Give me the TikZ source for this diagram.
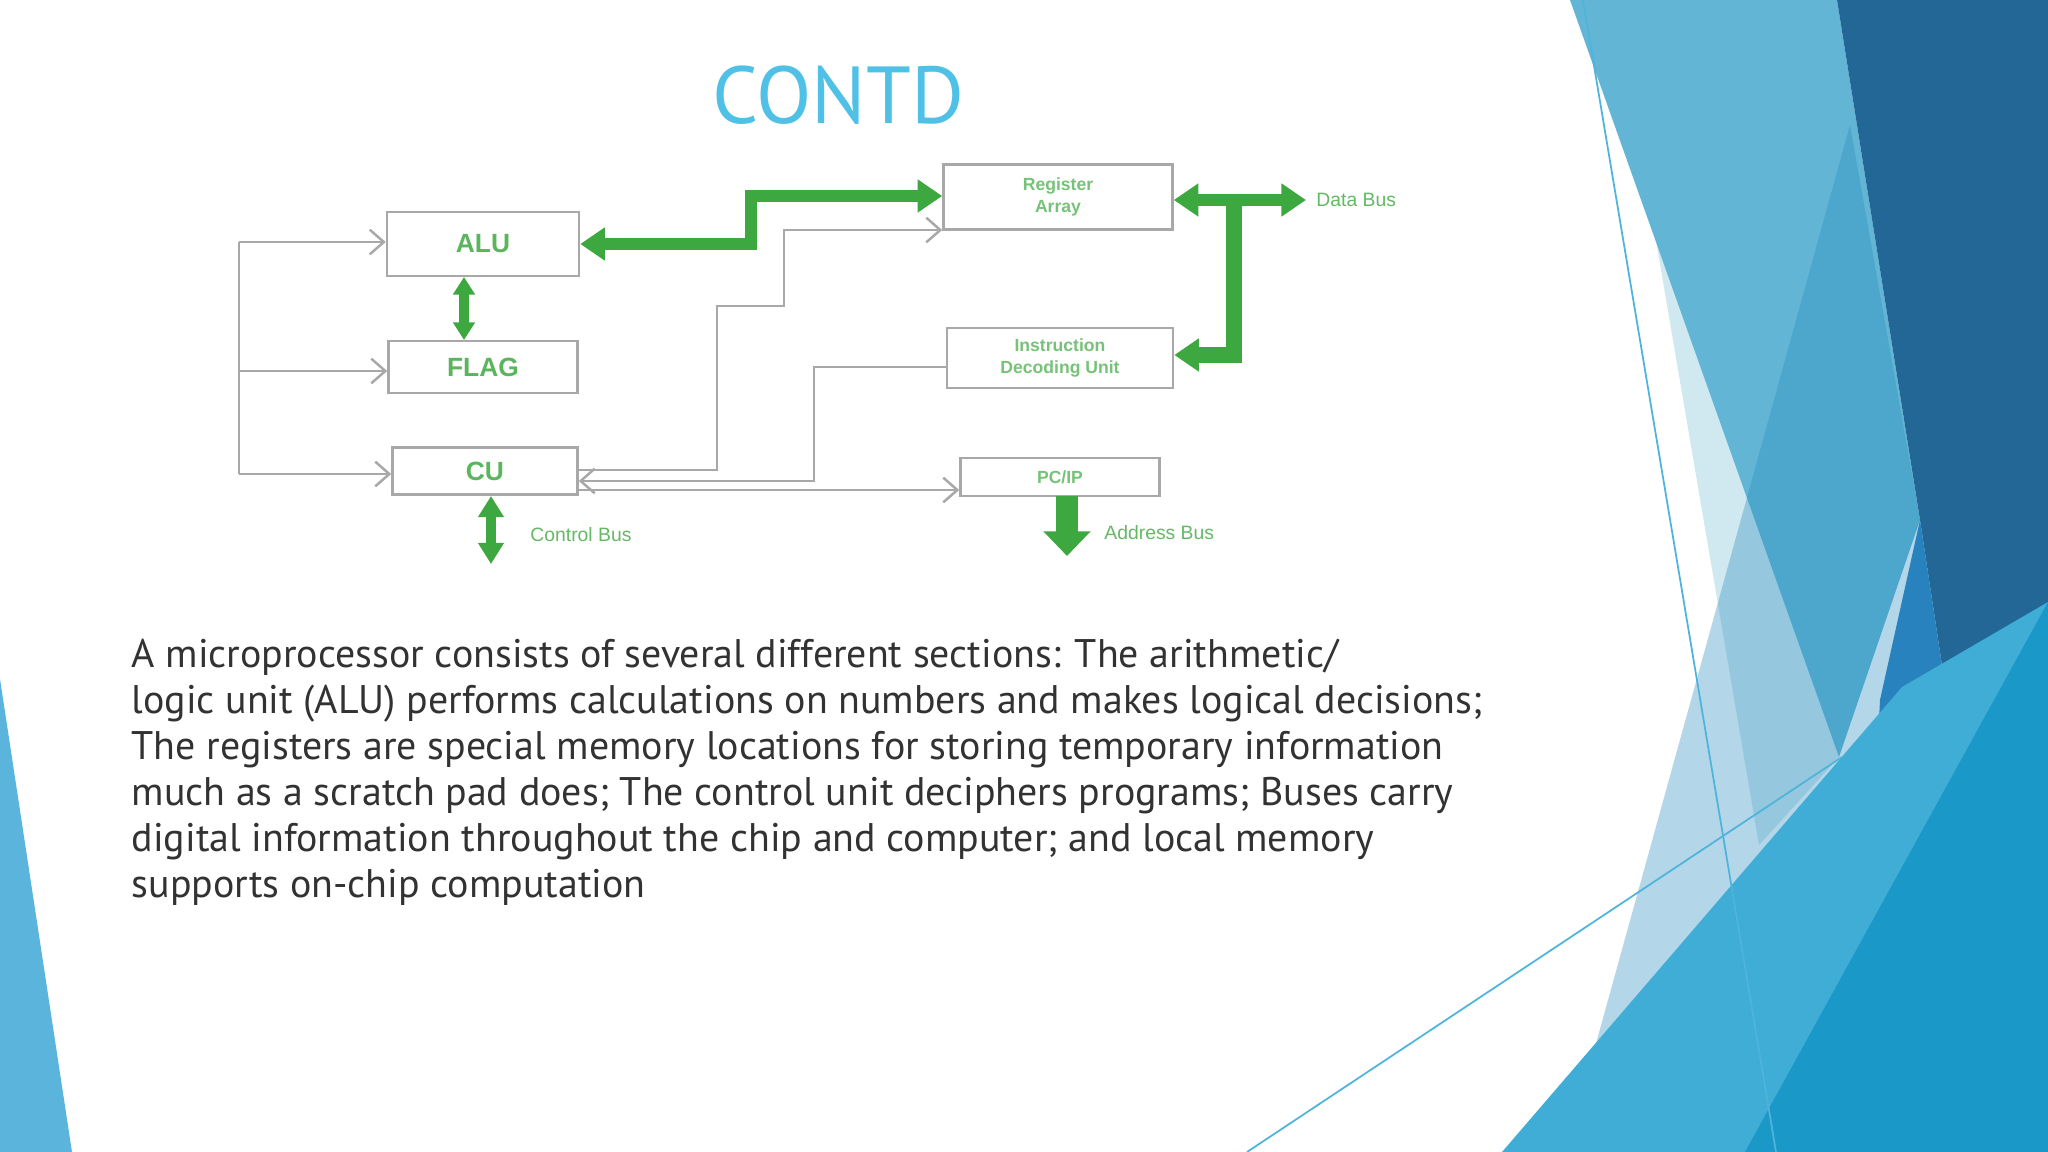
\documentclass[tikz,border=0pt]{standalone}
\usepackage{fontspec}
\setmainfont{PT Sans}
\newfontfamily\boxfont{Liberation Sans}
\usetikzlibrary{arrows.meta}
\definecolor{gr}{HTML}{3DA83F}
\definecolor{gl}{HTML}{A8A8A8}
\definecolor{ttl}{HTML}{4FC1E6}
\begin{document}
\begin{tikzpicture}[x=0.01cm,y=-0.01cm,
  box/.style={draw=gl,line width=0.7pt,minimum width=#1,inner sep=0pt,align=center},
  lbl/.style={font=\boxfont\fontsize{5.5}{6}\selectfont\color{gr!80!white},anchor=west},
  gline/.style={gl,line width=0.7pt},
  garr/.style={gline,-{Straight Barb[length=4pt,width=7pt]}},
  bus/.style={gr,line width=#1},
]
\useasboundingbox (0,0) rectangle (2048,1152);
\fill[white] (0,0) rectangle (2048,1152);
% background decoration
\fill[color={rgb,255:red,208;green,232;blue,240}] (1615,0)--(1759,845)--(1839,757)--(1837,0)--cycle;
\fill[color={rgb,255:red,98;green,181;blue,213}] (1570,0)--(1837,0)--(1920,520)--(1839,757)--cycle;
\fill[color={rgb,255:red,40;green,140;blue,190},opacity=0.35] (1850,125)--(1566,1152)--(1956,1152)--(1956,758)--(1920,520)--cycle;
\fill[color={rgb,255:red,35;green,103;blue,150}] (1837,0)--(2048,0)--(2048,602)--(1956,758)--(1920,520)--cycle;
\fill[color={rgb,255:red,40;green,130;blue,190}] (1920,520)--(1956,758)--(1870,900)--(1880,700)--cycle;
\fill[color={rgb,255:red,63;green,173;blue,213}] (1502,1152)--(1902,687)--(2048,602)--(2048,1152)--cycle;
\fill[color={rgb,255:red,26;green,152;blue,200}] (1745,1152)--(2048,602)--(2048,1152)--cycle;
\draw[color={rgb,255:red,79;green,180;blue,220},line width=0.5pt] (1583,0)--(1776,1152);
\draw[color={rgb,255:red,79;green,180;blue,220},line width=0.5pt] (1247,1152)--(1842,757);
\fill[color={rgb,255:red,90;green,180;blue,220}] (0,679)--(72,1152)--(0,1152)--cycle;
% title
\node[font=\fontsize{23}{26}\selectfont,text=ttl] (title) at (838,95) {CONTD};
% boxes
\tikzset{big/.style={font=\boxfont\bfseries\fontsize{7.5}{8}\selectfont\color{gr!85!white}},
  small/.style={font=\boxfont\bfseries\fontsize{5}{6}\selectfont\color{gr!70!white}}}
\node[box=192*0.2845pt,minimum height=64*0.2845pt,big] (alu) at (483,244) {ALU};
\node[box=189*0.2845pt,minimum height=52*0.2845pt,big] (flag) at (483,367) {FLAG};
\node[box=185*0.2845pt,minimum height=47*0.2845pt,big] (cu) at (485,471) {CU};
\node[box=229*0.2845pt,minimum height=65*0.2845pt,small] (reg) at (1058,197) {Register\\Array};
\node[box=226*0.2845pt,minimum height=60*0.2845pt,small] (idu) at (1060,358) {Instruction\\Decoding Unit};
\node[box=199*0.2845pt,minimum height=38*0.2845pt,small] (pc) at (1060,477) {PC/IP};
% grey connectors
\coordinate (lt) at (239,242);
\coordinate (lb) at (239,474);
\draw[gline] (lt)--(lb);
\draw[garr] (lt)--(alu.west|-lt);
\draw[garr] (239,371)--(flag.west|-0,371);
\draw[garr] (lb)--(cu.west|-lb);
\coordinate (c1) at (717,470);
\coordinate (c2) at (717,306);
\coordinate (c3) at (784,306);
\coordinate (c4) at (784,230);
\draw[garr] (cu.east|-c1)--(c1)--(c2)--(c3)--(c4)--(reg.west|-c4);
\coordinate (d1) at (814,367);
\coordinate (d2) at (814,481);
\draw[garr] (idu.west|-d1)--(d1)--(d2)--(cu.east|-d2);
\draw[garr] (cu.east|-0,490)--(pc.west|-0,490);
% green buses
\coordinate (a1) at (751,244);
\coordinate (a2) at (751,196);
\draw[bus=3.6pt,{Triangle[length=7pt,width=9pt]}-{Triangle[length=7pt,width=9pt]}] (alu.east|-a1)--(a1)--(a2)--(reg.west|-a2);
\draw[bus=2.6pt,{Triangle[length=5pt,width=6pt]}-{Triangle[length=5pt,width=6pt]}] (464,277)--(464,340);
\coordinate (db) at (1306,200);
\coordinate (t1) at (1234,200);
\coordinate (t2) at (1234,355);
\draw[bus=3.6pt,{Triangle[length=7pt,width=9pt]}-{Triangle[length=7pt,width=9pt]}] (reg.east|-db)--(db);
\draw[bus=4.5pt,-{Triangle[length=7pt,width=9pt]}] (t1)--(t2)--(idu.east|-t2);
\draw[bus=2.8pt,{Triangle[length=6pt,width=7pt]}-{Triangle[length=6pt,width=7pt]}] (491,496)--(491,564);
\draw[bus=6pt,-{Triangle[length=7pt,width=13pt]}] (1067,496)--(1067,556);
\node[lbl] (dbl) at (1304,200) {Data Bus};
\node[lbl] (cbl) at (518,535) {Control Bus};
\node[lbl] (abl) at (1092,533) {Address Bus};
% body text
\node[anchor=north west,align=left,inner sep=0pt,font=\fontsize{11.35}{13.1}\selectfont,text={rgb,255:red,50;green,50;blue,50}] (body) at (131,638) {A microprocessor consists of several different sections: The arithmetic/\\
logic unit (ALU) performs calculations on numbers and makes logical decisions;\\
The registers are special memory locations for storing temporary information\\
much as a scratch pad does; The control unit deciphers programs; Buses carry\\
digital information throughout the chip and computer; and local memory\\
supports on-chip computation};
\end{tikzpicture}
\end{document}
